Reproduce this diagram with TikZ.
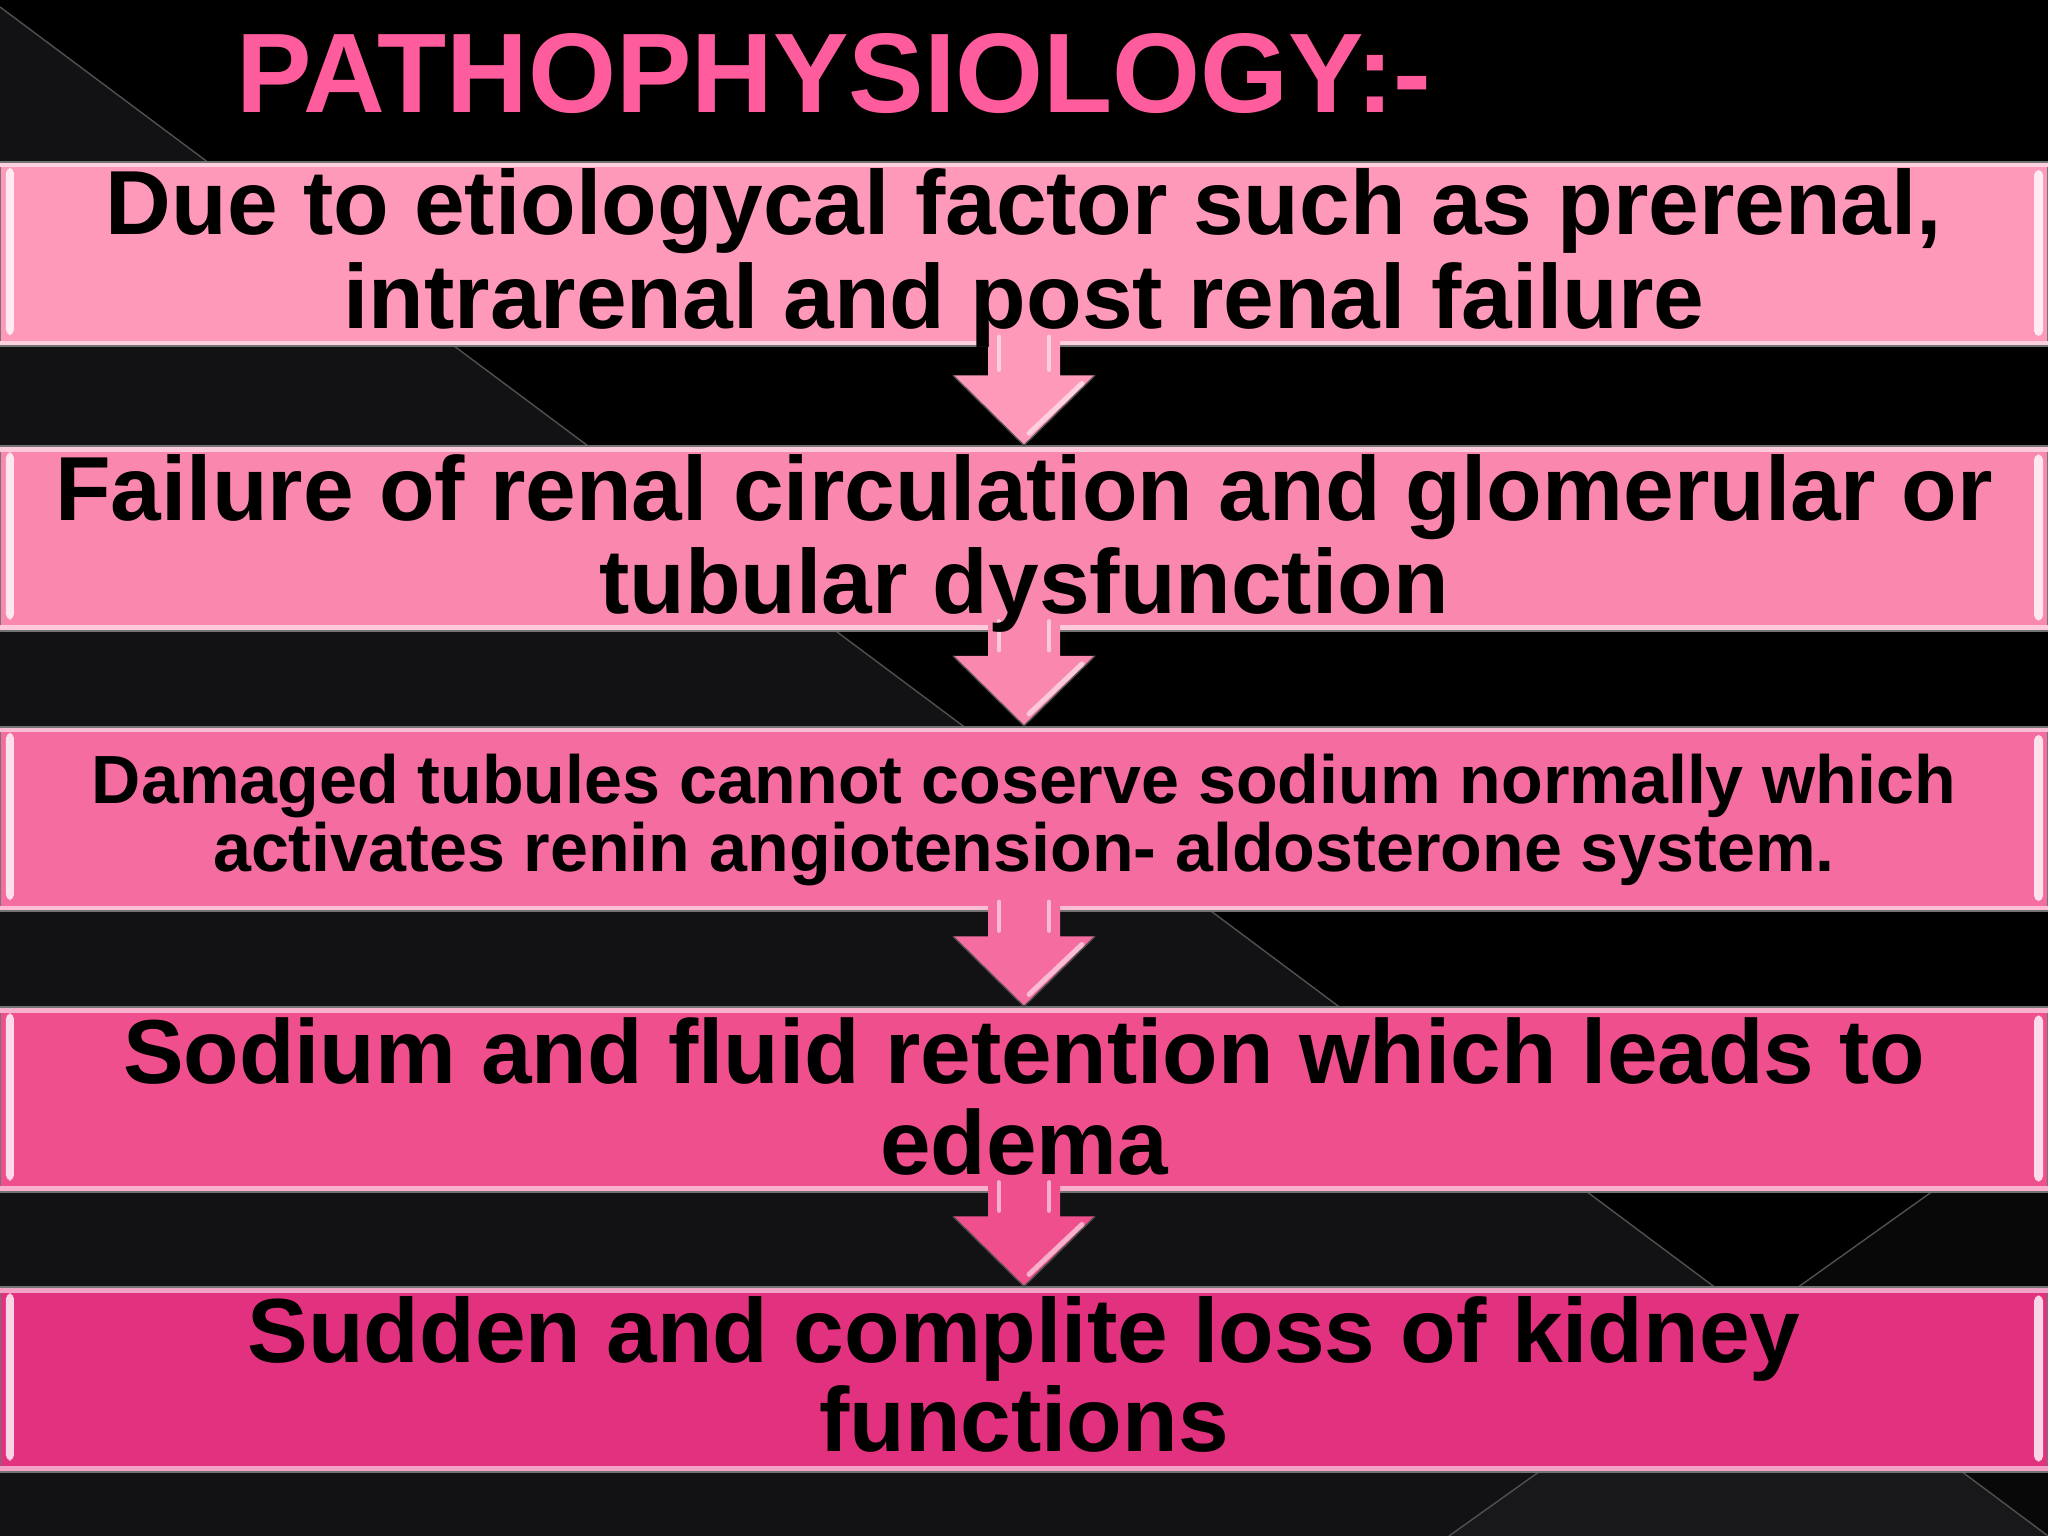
\documentclass[tikz,border=0pt]{standalone}
\usepackage{fontspec}
\setmainfont{Liberation Sans}
\usetikzlibrary{calc}

\definecolor{titlepink}{HTML}{FF5C9D}
\definecolor{pinkA}{HTML}{FF99B9}
\definecolor{pinkB}{HTML}{FA88AE}
\definecolor{pinkC}{HTML}{F56CA0}
\definecolor{pinkD}{HTML}{EF508D}
\definecolor{pinkE}{HTML}{E2317E}
\definecolor{bgdark}{HTML}{121214}
\definecolor{bglight}{HTML}{18181B}
\definecolor{bgnear}{HTML}{080808}
\definecolor{bgedge}{HTML}{505050}

\begin{document}
\begin{tikzpicture}[
    stage/.style={minimum width=20.48cm, minimum height=1.84cm, inner sep=0pt,
        draw=black!55, line width=0.6pt},
    stagetext/.style={align=center, text=black, inner sep=0pt},
    shine/.style={white, opacity=0.55, line width=1.4pt, line cap=round},
  ]
    \useasboundingbox (0,0) rectangle (20.48,15.36);

    % Background with the diagonal faces
    \fill[black] (0,0) rectangle (20.48,15.36);
    \coordinate (P) at (0,15.29);
    \coordinate (Q) at (20.48,0);
    \coordinate (R) at (20.48,4.27);
    \coordinate (S) at (14.49,0);
    \coordinate (X) at (17.55,2.18);
    \fill[bgdark] (P) -- (Q) -- (0,0) -- cycle;
    \fill[bglight] (X) -- (Q) -- (S) -- cycle;
    \fill[bgnear] (R) -- (X) -- (Q) -- cycle;
    \draw[bgedge, line width=0.4pt] (P) -- (Q);
    \draw[bgedge, line width=0.4pt] (R) -- (S);

    % Title
    \node[anchor=base west, inner sep=0pt, text=titlepink,
        font=\bfseries\fontsize{32.2}{34}\selectfont] (title) at (2.36,14.23) {PATHOPHYSIOLOGY:-};

    % The five stages
    \node[stage, fill=pinkA] (b1) at (10.24,12.82) {};
    \node[stage, fill=pinkB] (b2) at (10.24,9.975) {};
    \node[stage, fill=pinkC] (b3) at (10.24,7.17) {};
    \node[stage, fill=pinkD] (b4) at (10.24,4.365) {};
    \node[stage, fill=pinkE] (b5) at (10.24,1.565) {};

    % Glossy edges of the stages
    \foreach \b/\c in {b1/pinkA, b2/pinkB, b3/pinkC, b4/pinkD, b5/pinkE} {
        \draw[white!55!\c, line width=1.2pt] ($(\b.north west)+(0,-0.04)$) -- ($(\b.north east)+(0,-0.04)$);
        \draw[white!55!\c, line width=1.2pt] ($(\b.south west)+(0,0.04)$) -- ($(\b.south east)+(0,0.04)$);
        \fill[white!80!\c, rounded corners=1.5pt] ($(\b.north west)+(0.07,-0.07)$) rectangle ($(\b.south west)+(0.15,0.12)$);
        \fill[white!80!\c, rounded corners=1.5pt] ($(\b.north east)+(-0.06,-0.09)$) rectangle ($(\b.south east)+(-0.15,0.11)$);
    }

    % Arrows between the stages
    \foreach \a/\b/\c in {b1/b2/pinkA, b2/b3/pinkB, b3/b4/pinkC, b4/b5/pinkD} {
        \fill[\c] ($(\a.south)+(-0.36,0.14)$) -- ($(\a.south)+(0.36,0.14)$)
            -- ($(\b.north)+(0.36,0.70)$) -- ($(\b.north)+(0.71,0.70)$) -- (\b.north)
            -- ($(\b.north)+(-0.71,0.70)$) -- ($(\b.north)+(-0.36,0.70)$) -- cycle;
        \draw[black!70, line width=0.4pt] ($(\b.north)+(-0.71,0.70)$) -- (\b.north) -- ($(\b.north)+(0.71,0.70)$);
        \draw[shine] ($(\a.south)+(-0.25,0.10)$) -- ($(\b.north)+(-0.25,0.76)$);
        \draw[shine] ($(\a.south)+(0.25,0.10)$) -- ($(\b.north)+(0.25,0.76)$);
        \draw[shine] ($(\b.north)+(0.58,0.62)$) -- ($(\b.north)+(0.05,0.12)$);
    }

    % Texts of the stages
    \node[stagetext, font=\bfseries\fontsize{25.9}{26.6}\selectfont] (t1) at ($(b1)+(0,-0.04)$)
        {Due to etiologycal factor such as prerenal,\\intrarenal and post renal failure};
    \node[stagetext, font=\bfseries\fontsize{25.9}{26.6}\selectfont] (t2) at ($(b2)+(0,-0.05)$)
        {Failure of renal circulation and glomerular or\\tubular dysfunction};
    \node[stagetext, font=\bfseries\fontsize{19.4}{19.6}\selectfont] (t3) at ($(b3)+(0,-0.01)$)
        {Damaged tubules cannot coserve sodium normally which\\activates renin angiotension- aldosterone system.};
    \node[stagetext, font=\bfseries\fontsize{25.85}{25.8}\selectfont] (t4) at ($(b4)+(0,0.03)$)
        {Sodium and fluid retention which leads to\\edema};
    \node[stagetext, font=\bfseries\fontsize{25.9}{25.2}\selectfont] (t5) at ($(b5)+(0,0.05)$)
        {Sudden and complite loss of kidney\\functions};
\end{tikzpicture}
\end{document}
